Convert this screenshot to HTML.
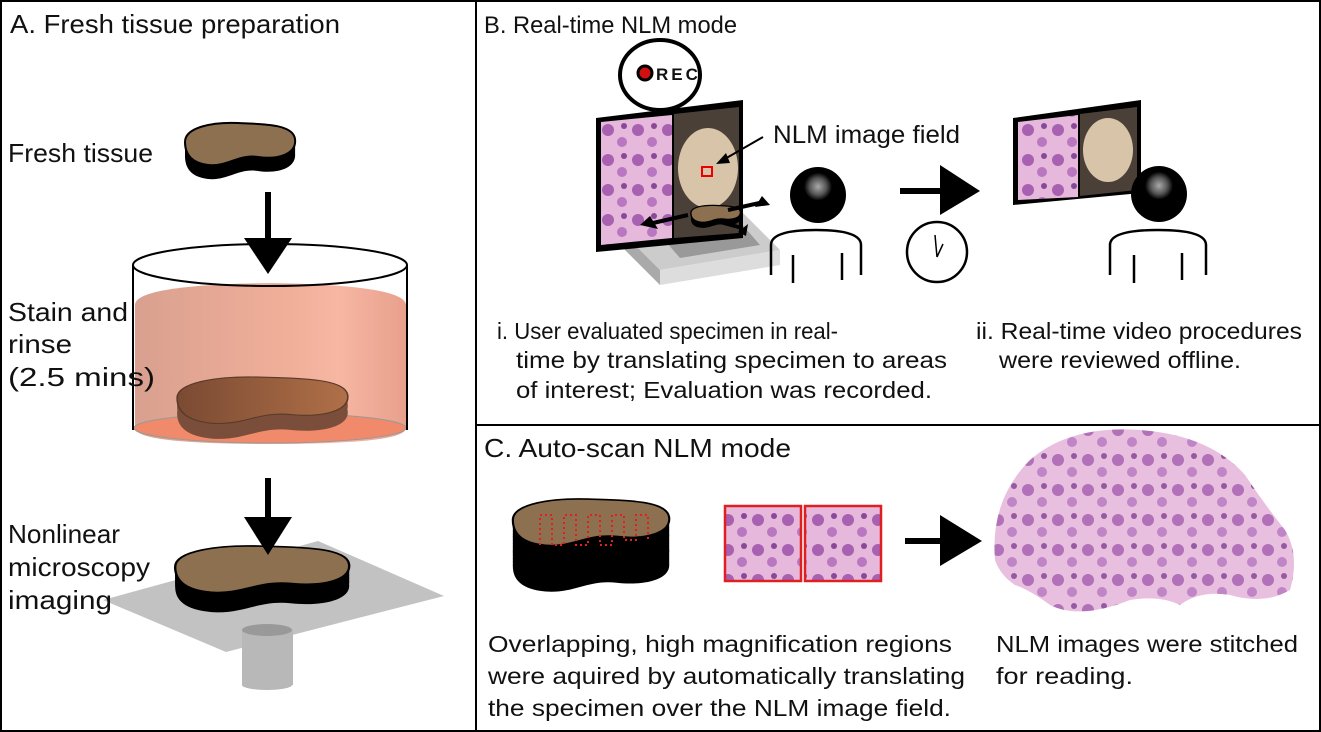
<!DOCTYPE html><html><head><style>body{margin:0;background:#fff}svg{display:block}text{font-family:"Liberation Sans",sans-serif;fill:#111}</style></head><body>
<svg width="1321" height="732" viewBox="0 0 1321 732">
<defs>
<linearGradient id="liq" x1="0" x2="1"><stop offset="0" stop-color="#d9a08f"/><stop offset=".6" stop-color="#f2b09a"/><stop offset=".75" stop-color="#f6b7a3"/><stop offset="1" stop-color="#e8a08c"/></linearGradient>
<linearGradient id="tis" x1="0" x2="1"><stop offset="0" stop-color="#7a4a32"/><stop offset="1" stop-color="#b07048"/></linearGradient>
<radialGradient id="hd" cx=".5" cy=".35" r=".5"><stop offset="0" stop-color="#aaa"/><stop offset=".3" stop-color="#555"/><stop offset=".5" stop-color="#000"/></radialGradient>
<pattern id="hep" width="30" height="30" patternUnits="userSpaceOnUse"><rect width="30" height="30" fill="#e6b8dc"/><circle cx="8" cy="10" r="6" fill="#a860b0"/><circle cx="22" cy="22" r="5" fill="#b877c0"/><circle cx="24" cy="6" r="3" fill="#8a4898"/></pattern>
<path id="kid" d="M2,20 C2,5 30,0 55,1 C80,2 110,2 112,17 C114,32 95,38 75,35 C55,32 45,45 25,43 C8,41 2,32 2,20 Z"/>
<g id="tblk"><use href="#kid" y="2"/><use href="#kid" y="5"/><use href="#kid" y="8"/><use href="#kid" y="11"/><use href="#kid" y="14"/></g>
</defs>
<rect x="1" y="1" width="1319" height="730" fill="none" stroke="#000" stroke-width="2"/>
<line x1="476" y1="1" x2="476" y2="731" stroke="#000" stroke-width="2"/>
<line x1="476" y1="425" x2="1320" y2="425" stroke="#000" stroke-width="2"/>
<g transform="translate(183,122)"><use href="#tblk" fill="#000"/><use href="#kid" fill="#8c7050" stroke="#000" stroke-width="2"/></g>
<line x1="268" y1="192" x2="268" y2="240" stroke="#000" stroke-width="6"/>
<polygon points="244,238 292,238 268,274" fill="#000"/>
<path d="M135,305 q0,-20 135,-22 q135,2 136,22 v123 q0,16 -136,16 q-135,0 -135,-16z" fill="url(#liq)"/>
<ellipse cx="270" cy="428" rx="136" ry="15" fill="#f08a6a" stroke="#999"/>
<g transform="translate(174,376) scale(1.55,1.1)"><use href="#kid" y="14" fill="#7a4e3a"/><use href="#kid" y="8" fill="#7a4e3a"/><use href="#kid" y="3" fill="#7a4e3a"/><use href="#kid" fill="url(#tis)" stroke="#5a3a2a" stroke-width="1"/></g>
<ellipse cx="270" cy="265" rx="137" ry="21" fill="none" stroke="#000" stroke-width="2"/>
<line x1="133" y1="265" x2="133" y2="430" stroke="#000" stroke-width="2"/>
<line x1="407" y1="265" x2="407" y2="430" stroke="#000" stroke-width="2"/>
<polygon points="103,600 318,541 444,596 226,652" fill="#bbb" opacity=".9"/>
<g transform="translate(172,545) scale(1.58,1.1)"><use href="#tblk" fill="#000" transform="translate(0,4)"/><use href="#tblk" fill="#000"/><use href="#kid" fill="#8c7050" stroke="#000" stroke-width="1.5"/></g>
<line x1="268" y1="478" x2="268" y2="520" stroke="#000" stroke-width="6"/>
<polygon points="244,517 292,517 268,555" fill="#000"/>
<rect x="242" y="630" width="51" height="55" fill="#b8b8b8"/>
<ellipse cx="267" cy="685" rx="25" ry="5" fill="#b8b8b8"/>
<ellipse cx="267" cy="630" rx="25" ry="6" fill="#999"/>
<g font-size="26">
<text x="10" y="33" textLength="330" lengthAdjust="spacingAndGlyphs">A. Fresh tissue preparation</text>
<text x="484" y="33" font-size="24" textLength="253" lengthAdjust="spacingAndGlyphs">B. Real-time NLM mode</text>
<text x="484" y="457" textLength="307" lengthAdjust="spacingAndGlyphs">C. Auto-scan NLM mode</text>
<text x="8" y="162" textLength="145" lengthAdjust="spacingAndGlyphs">Fresh tissue</text>
<text x="8" y="321" textLength="120" lengthAdjust="spacingAndGlyphs">Stain and</text>
<text x="8" y="353" textLength="64" lengthAdjust="spacingAndGlyphs">rinse</text>
<text x="8" y="386" textLength="147" lengthAdjust="spacingAndGlyphs">(2.5 mins)</text>
<text x="8" y="543" textLength="112" lengthAdjust="spacingAndGlyphs">Nonlinear</text>
<text x="8" y="576" textLength="142" lengthAdjust="spacingAndGlyphs">microscopy</text>
<text x="8" y="609" textLength="104" lengthAdjust="spacingAndGlyphs">imaging</text>
</g>
<ellipse cx="660" cy="75" rx="40" ry="35" fill="#fff" stroke="#000" stroke-width="4"/>
<circle cx="645" cy="73" r="7" fill="#d01010" stroke="#000" stroke-width="3"/>
<text x="656" y="80" font-size="17" font-weight="bold" letter-spacing="3">REC</text>
<polygon points="615,225 735,205 780,250 660,270" fill="#ccc"/>
<polygon points="615,225 660,270 660,285 615,240" fill="#aaa"/>
<polygon points="660,270 780,250 780,265 660,285" fill="#ddd"/>
<polygon points="660,235 740,222 760,245 680,258" fill="#999"/>
<polygon points="596,118 743,100 743,238 596,252" fill="#000"/>
<polygon points="601,122 672,115 672,238 601,245" fill="url(#hep)"/>
<polygon points="674,114 739,107 739,233 674,238" fill="#4a4038"/>
<ellipse cx="708" cy="168" rx="30" ry="40" fill="#d8c4a8"/>
<rect x="702" y="167" width="10" height="9" fill="none" stroke="#e00" stroke-width="2"/>
<g transform="translate(690,205) scale(0.45,0.4)"><use href="#tblk" fill="#000"/><use href="#kid" fill="#8c7050" stroke="#000" stroke-width="3"/></g>
<path d="M688,215 l-35,8 M728,210 l36,-8 M720,222 l22,6" stroke="#000" stroke-width="4" fill="none"/>
<polygon points="650,216 658,229 640,225" fill="#000"/>
<polygon points="762,196 770,205 755,207" fill="#000"/>
<polygon points="738,232 748,224 746,236" fill="#000"/>
<line x1="763" y1="137" x2="723" y2="160" stroke="#000" stroke-width="2"/>
<polygon points="716,164 726,153 730,163" fill="#000"/>
<text x="773" y="143" font-size="25" textLength="187" lengthAdjust="spacingAndGlyphs">NLM image field</text>
<circle cx="818" cy="195" r="28" fill="url(#hd)"/>
<path d="M771,275 v-30 q0,-15 45,-15 q45,0 45,15 v30" fill="none" stroke="#000" stroke-width="2.5"/>
<line x1="793" y1="255" x2="793" y2="283" stroke="#000" stroke-width="2.5"/>
<line x1="842" y1="253" x2="842" y2="280" stroke="#000" stroke-width="2.5"/>
<line x1="900" y1="191" x2="945" y2="191" stroke="#000" stroke-width="6"/>
<polygon points="940,165 980,191 940,215" fill="#000"/>
<circle cx="937" cy="252" r="30" fill="none" stroke="#000" stroke-width="2.5"/>
<path d="M937,257 l-2,-22 M937,257 l6,-13" stroke="#000" stroke-width="1.5"/>
<polygon points="1013,118 1141,100 1141,193 1013,205" fill="#000"/>
<polygon points="1018,122 1078,115 1078,197 1018,200" fill="url(#hep)"/>
<polygon points="1080,114 1137,107 1137,190 1080,196" fill="#4a4038"/>
<ellipse cx="1108" cy="150" rx="25" ry="32" fill="#d8c4a8"/>
<circle cx="1159" cy="194" r="28" fill="url(#hd)"/>
<path d="M1110,275 v-30 q0,-15 48,-15 q48,0 48,15 v30" fill="none" stroke="#000" stroke-width="2.5"/>
<line x1="1134" y1="255" x2="1134" y2="283" stroke="#000" stroke-width="2.5"/>
<line x1="1182" y1="253" x2="1182" y2="280" stroke="#000" stroke-width="2.5"/>
<g font-size="23">
<text x="497" y="339" textLength="341" lengthAdjust="spacingAndGlyphs">i. User evaluated specimen in real-</text>
<text x="516" y="368" textLength="431" lengthAdjust="spacingAndGlyphs">time by translating specimen to areas</text>
<text x="516" y="398" textLength="416" lengthAdjust="spacingAndGlyphs">of interest; Evaluation was recorded.</text>
<text x="976" y="339" textLength="326" lengthAdjust="spacingAndGlyphs">ii. Real-time video procedures</text>
<text x="999" y="368" textLength="242" lengthAdjust="spacingAndGlyphs">were reviewed offline.</text>
<text x="488" y="652" textLength="464" lengthAdjust="spacingAndGlyphs">Overlapping, high magnification regions</text>
<text x="488" y="684" textLength="477" lengthAdjust="spacingAndGlyphs">were aquired by automatically translating</text>
<text x="488" y="716" textLength="463" lengthAdjust="spacingAndGlyphs">the specimen over the NLM image field.</text>
<text x="996" y="652" textLength="302" lengthAdjust="spacingAndGlyphs">NLM images were stitched</text>
<text x="996" y="684" textLength="137" lengthAdjust="spacingAndGlyphs">for reading.</text>
</g>
<g transform="translate(510,498) scale(1.42,1.1)"><use href="#tblk" fill="#000" transform="translate(0,14)"/><use href="#tblk" fill="#000" transform="translate(0,28)"/><use href="#tblk" fill="#000"/><use href="#kid" fill="#8c7050" stroke="#000" stroke-width="1.5"/></g>
<path d="M540,545 v-30 h12 v30 h12 v-30 h12 v30 h12 v-30 h12 v30 h12 v-30 h12 v25 h12 v-25 h12 v25" fill="none" stroke="#e02020" stroke-width="2" stroke-dasharray="2,3"/>
<rect x="725" y="506" width="76" height="75" fill="url(#hep)" stroke="#e02020" stroke-width="2.5"/>
<rect x="805" y="506" width="76" height="75" fill="url(#hep)" stroke="#e02020" stroke-width="2.5"/>
<line x1="905" y1="541" x2="945" y2="541" stroke="#000" stroke-width="6"/>
<polygon points="940,515 982,541 940,566" fill="#000"/>
<path d="M995,560 q-5,-60 35,-100 q40,-35 110,-30 q70,5 105,45 q20,30 40,55 q15,25 5,60 q-25,15 -60,5 q-30,-5 -50,10 q-20,-10 -50,-5 q-50,20 -80,5 q-20,-15 -35,-20 q-15,-10 -20,-25z" fill="url(#hep)" opacity=".9"/>
</svg></body></html>
